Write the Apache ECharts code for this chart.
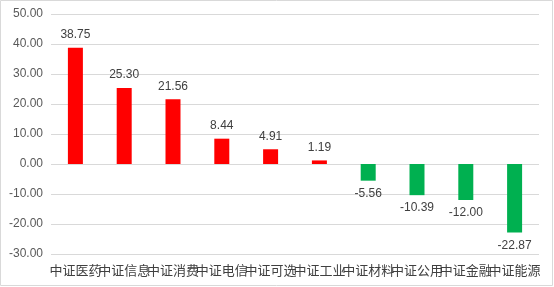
<!DOCTYPE html>
<html><head><meta charset="utf-8">
<script src="https://cdn.jsdelivr.net/npm/echarts@6/dist/echarts.min.js"></script>
<style>html,body{margin:0;padding:0;background:#fff}#c{width:554px;height:287px}</style>
</head><body><div id="c"></div>
<script>
const categories = ['中证医药','中证信息','中证消费','中证电信','中证可选','中证工业','中证材料','中证公用','中证金融','中证能源'];
const values = [38.75, 25.30, 21.56, 8.44, 4.91, 1.19, -5.56, -10.39, -12.00, -22.87];
const posColor = '#FF0000';
const negColor = '#00B050';
const chart = echarts.init(document.getElementById('c'));
chart.setOption({
  animation: false,
  graphic: [{type:'rect', shape:{x:0.5,y:0.5,width:552,height:285}, style:{fill:'none', stroke:'#d9d9d9', lineWidth:1}}],
  grid: {left: 51, right: 15, top: 14, bottom: 33},
  xAxis: {
    type: 'category', data: categories,
    axisLine: {show: false}, axisTick: {show: false},
    axisLabel: {color: '#404040', fontSize: 13, margin: 10, interval: 0, fontFamily: 'Noto Sans CJK SC'}
  },
  yAxis: {
    type: 'value', min: -30, max: 50, interval: 10,
    axisLabel: {color: '#595959', fontSize: 12, margin: 8, formatter: v => v.toFixed(2), fontFamily: 'Liberation Sans'},
    splitLine: {lineStyle: {color: '#d9d9d9'}},
    axisLine: {show: false}, axisTick: {show: false}
  },
  series: [{
    type: 'bar', barWidth: 15,
    data: values.map(v => ({value: v, itemStyle: {color: v >= 0 ? posColor : negColor}})),
    label: {
      show: true, color: '#404040', fontSize: 12, fontFamily: 'Liberation Sans', distance: 7,
      formatter: p => p.value.toFixed(2),
      position: 'top'
    }
  }]
});
// negative labels below
chart.setOption({series: [{data: values.map(v => ({value: v, itemStyle: {color: v >= 0 ? posColor : negColor}, label: {position: v >= 0 ? 'top' : 'bottom'}}))}]});
</script></body></html>
